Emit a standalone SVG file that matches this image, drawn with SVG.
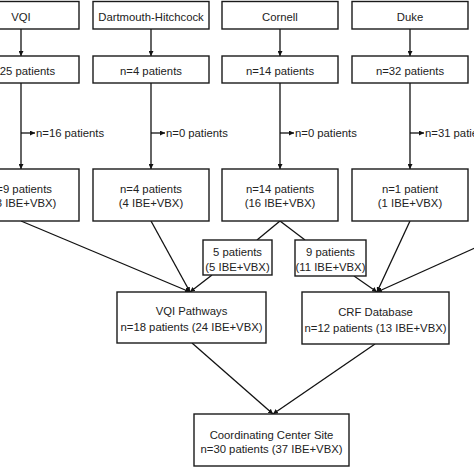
<svg xmlns="http://www.w3.org/2000/svg" width="474" height="474" viewBox="0 0 474 474">
<defs>
<marker id="ah" viewBox="0 0 10 10" refX="10" refY="5" markerWidth="5" markerHeight="5" orient="auto" markerUnits="userSpaceOnUse">
<path d="M0,0 L10,5 L0,10 z" fill="#111"/>
</marker>
<style>
.box{fill:#fff;stroke:#1a1a1a;stroke-width:1.4}
.t{font-family:"Liberation Sans",Arial,sans-serif;font-size:11.3px;fill:#222;text-anchor:middle}
.l{font-family:"Liberation Sans",Arial,sans-serif;font-size:11.3px;fill:#222}
.c{stroke:#111;stroke-width:1.3;fill:none}
</style>
</defs>
<rect width="474" height="474" fill="#fff"/>
<g id="connectors">
<line class="c" x1="21" y1="29" x2="21" y2="56" marker-end="url(#ah)"/>
<line class="c" x1="151" y1="29" x2="151" y2="56" marker-end="url(#ah)"/>
<line class="c" x1="280" y1="29" x2="280" y2="56" marker-end="url(#ah)"/>
<line class="c" x1="410" y1="29" x2="410" y2="56" marker-end="url(#ah)"/>
<line class="c" x1="21" y1="83" x2="21" y2="169" marker-end="url(#ah)"/>
<line class="c" x1="151" y1="83" x2="151" y2="169" marker-end="url(#ah)"/>
<line class="c" x1="280" y1="83" x2="280" y2="169" marker-end="url(#ah)"/>
<line class="c" x1="410" y1="83" x2="410" y2="169" marker-end="url(#ah)"/>
<line class="c" x1="21" y1="133" x2="35" y2="133" marker-end="url(#ah)"/>
<line class="c" x1="151" y1="133" x2="165" y2="133" marker-end="url(#ah)"/>
<line class="c" x1="280" y1="133" x2="294" y2="133" marker-end="url(#ah)"/>
<line class="c" x1="410" y1="133" x2="424" y2="133" marker-end="url(#ah)"/>
<line class="c" x1="21" y1="221" x2="190" y2="292" marker-end="url(#ah)"/>
<line class="c" x1="151" y1="221" x2="190" y2="292" marker-end="url(#ah)"/>
<line class="c" x1="212" y1="275" x2="190" y2="292" marker-end="url(#ah)"/>
<line class="c" x1="280" y1="221" x2="257" y2="240"/>
<line class="c" x1="280" y1="221" x2="305" y2="240"/>
<line class="c" x1="354" y1="276" x2="377" y2="292" marker-end="url(#ah)"/>
<line class="c" x1="410" y1="221" x2="377" y2="292" marker-end="url(#ah)"/>
<line class="c" x1="535" y1="221" x2="377" y2="292" marker-end="url(#ah)"/>
<line class="c" x1="192" y1="343" x2="273" y2="414" marker-end="url(#ah)"/>
<line class="c" x1="375" y1="344" x2="273" y2="414" marker-end="url(#ah)"/>
</g>
<g id="vqi"><rect class="box" x="-37" y="1.5" width="116" height="27.5"/><text class="t" x="21" y="21">VQI</text></g>
<g id="dartmouth"><rect class="box" x="93" y="1.5" width="116" height="27.5"/><text class="t" x="151" y="21">Dartmouth-Hitchcock</text></g>
<g id="cornell"><rect class="box" x="222" y="1.5" width="116" height="27.5"/><text class="t" x="280" y="21">Cornell</text></g>
<g id="duke"><rect class="box" x="352" y="1.5" width="116" height="27.5"/><text class="t" x="410" y="21">Duke</text></g>
<g id="vqi-n"><rect class="box" x="-37" y="56" width="116" height="27"/><text class="t" x="21" y="75">n=25 patients</text></g>
<g id="dartmouth-n"><rect class="box" x="93" y="56" width="116" height="27"/><text class="t" x="151" y="75">n=4 patients</text></g>
<g id="cornell-n"><rect class="box" x="222" y="56" width="116" height="27"/><text class="t" x="280" y="75">n=14 patients</text></g>
<g id="duke-n"><rect class="box" x="352" y="56" width="116" height="27"/><text class="t" x="410" y="75">n=32 patients</text></g>
<g id="labels">
<text class="l" x="36" y="137">n=16 patients</text>
<text class="l" x="166" y="137">n=0 patients</text>
<text class="l" x="295" y="137">n=0 patients</text>
<text class="l" x="425" y="137">n=31 patients</text>
</g>
<g id="vqi-r"><rect class="box" x="-37" y="169" width="116" height="52"/><text class="t" x="21" y="193">n=9 patients</text><text class="t" x="21" y="207">(13 IBE+VBX)</text></g>
<g id="dartmouth-r"><rect class="box" x="93" y="169" width="116" height="52"/><text class="t" x="151" y="193">n=4 patients</text><text class="t" x="151" y="207">(4 IBE+VBX)</text></g>
<g id="cornell-r"><rect class="box" x="222" y="169" width="116" height="52"/><text class="t" x="280" y="193">n=14 patients</text><text class="t" x="280" y="207">(16 IBE+VBX)</text></g>
<g id="duke-r"><rect class="box" x="352" y="169" width="116" height="52"/><text class="t" x="410" y="193">n=1 patient</text><text class="t" x="410" y="207">(1 IBE+VBX)</text></g>
<g id="five"><rect class="box" x="203" y="240" width="69" height="35"/><text class="t" x="237.5" y="256">5 patients</text><text class="t" x="237.5" y="271">(5 IBE+VBX)</text></g>
<g id="nine"><rect class="box" x="295" y="240" width="71" height="36"/><text class="t" x="330.5" y="256">9 patients</text><text class="t" x="330.5" y="271">(11 IBE+VBX)</text></g>
<g id="vqi-pathways"><rect class="box" x="117" y="292" width="149" height="51"/><text class="t" x="191.5" y="315">VQI Pathways</text><text class="t" x="191.5" y="331">n=18 patients (24 IBE+VBX)</text></g>
<g id="crf"><rect class="box" x="302" y="292" width="147" height="52"/><text class="t" x="375.5" y="316">CRF Database</text><text class="t" x="375.5" y="332">n=12 patients (13 IBE+VBX)</text></g>
<g id="coordinating"><rect class="box" x="194" y="414" width="155" height="52"/><text class="t" x="271.5" y="439">Coordinating Center Site</text><text class="t" x="271.5" y="453">n=30 patients (37 IBE+VBX)</text></g>
</svg>
